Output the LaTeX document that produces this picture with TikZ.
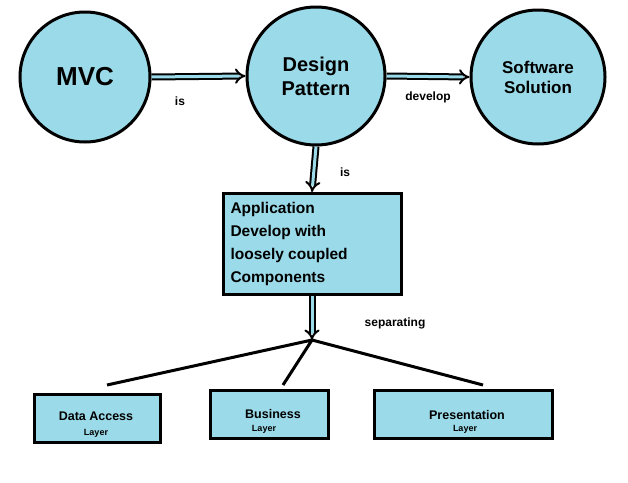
\documentclass[tikz,border=0pt]{standalone}
\usepackage{fontspec}
\setmainfont{Liberation Sans}
\usetikzlibrary{arrows.meta}
\definecolor{lb}{RGB}{155,218,232}
\begin{document}
\begin{tikzpicture}[x=1pt,y=-1pt,
 circ/.style={circle,draw,line width=3pt,fill=lb,inner sep=0pt,font=\bfseries},
 box/.style={draw,line width=3pt,fill=lb,inner sep=0pt},
 darr/.style={double=lb,double distance=3pt,line width=2pt,-{Implies}},
 lbl/.style={font=\bfseries\large}]
\useasboundingbox (0,0) rectangle (628,482);
\node[circ,minimum size=130pt,font=\bfseries\fontsize{26}{30}\selectfont] (mvc) at (85,77) {MVC};
\node[circ,minimum size=138pt,font=\bfseries\fontsize{20}{24}\selectfont,align=center] (dp) at (316,76) {Design\\Pattern};
\node[circ,minimum size=134pt,font=\bfseries\fontsize{17}{20}\selectfont,align=center] (ss) at (538,77) {Software\\Solution};
\node[box,minimum width=178pt,minimum height=101pt] (app) at (312,244) {};
\node[font=\bfseries\fontsize{15.5}{23}\selectfont,align=left,anchor=north west] (apptxt) at (227,199) {Application\\Develop with\\loosely coupled\\Components};
\draw[darr] (mvc.east) -- (dp.west);
\draw[darr] (dp.east) -- (ss.west);
\draw[darr] (dp.south) -- (app.north);
\coordinate (j) at (312,340);
\draw[darr] (app.south) -- (j);
\node[lbl] (l1) at (180,101) {is};
\node[lbl] (l2) at (428,97) {develop};
\node[lbl] (l3) at (345,172) {is};
\node[lbl] (l4) at (395,323) {separating};
\node[box,minimum width=126pt,minimum height=48pt] (da) at (97,418) {};
\node[box,minimum width=118pt,minimum height=48pt] (bu) at (269,414) {};
\node[box,minimum width=178pt,minimum height=48pt] (pr) at (463,414) {};
\node[font=\bfseries\fontsize{12.5}{14}\selectfont] (dat) at (96,416) {Data Access};
\node[font=\bfseries\fontsize{9}{10}\selectfont] (dal) at (96,433) {Layer};
\node[font=\bfseries\fontsize{12.5}{14}\selectfont] (but) at (273,414) {Business};
\node[font=\bfseries\fontsize{9}{10}\selectfont] (bul) at (264,429) {Layer};
\node[font=\bfseries\fontsize{12.5}{14}\selectfont] (prt) at (467,415) {Presentation};
\node[font=\bfseries\fontsize{9}{10}\selectfont] (prl) at (465,429) {Layer};
\draw[line width=3pt] (j) -- (107,385) (j) -- (283,385) (j) -- (483,385);
\end{tikzpicture}
\end{document}
